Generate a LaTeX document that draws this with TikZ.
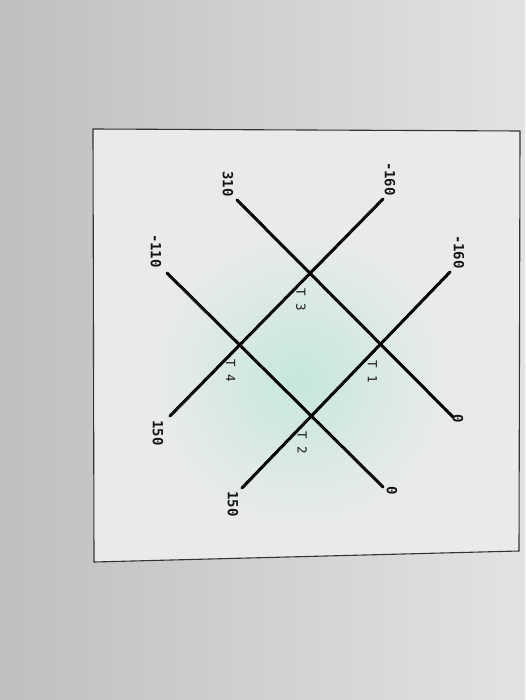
\documentclass[tikz,border=0pt]{standalone}
\usepackage{fontspec}
\setmonofont{DejaVu Sans Mono}
\definecolor{photobg}{HTML}{D9D9D7}
\definecolor{screenbg}{HTML}{EAEBE9}
\definecolor{glow}{HTML}{C6E7DE}
\begin{document}
\begin{tikzpicture}[x=1pt,y=-1pt,
  wire/.style={line width=3pt, line cap=round, black},
  lab/.style={font=\ttfamily\bfseries\fontsize{14}{15}\selectfont, rotate=-90, inner sep=0pt, text=black!92},
  tlab/.style={font=\ttfamily\fontsize{12.5}{14}\selectfont, rotate=-90, inner sep=0pt, text=black!90},
  frame/.style={draw=black!80, line width=1.1pt}]
\useasboundingbox (0,0) rectangle (525,700);
% photo background
\shade[left color=photobg!88!black, right color=photobg!75!white] (0,0) rectangle (525,700);
% screen area
\fill[screenbg] (93,129) -- (520,131) -- (519,551) -- (94,562) -- cycle;
\begin{scope}
  \clip (93,129) -- (520,131) -- (519,551) -- (94,562) -- cycle;
  \shade[inner color=glow, outer color=screenbg] (300,380) circle (150);
\end{scope}
\draw[frame] (93,129) -- (520,131) -- (519,551) -- (94,562) -- cycle;
% line endpoints
\coordinate (a1) at (383,199); \coordinate (a2) at (170,416);
\coordinate (b1) at (450,272); \coordinate (b2) at (242,488);
\coordinate (c1) at (237,200); \coordinate (c2) at (453,417);
\coordinate (d1) at (167,273); \coordinate (d2) at (383,487);
\draw[wire] (a1) -- (a2);
\draw[wire] (b1) -- (b2);
\draw[wire] (c1) -- (c2);
\draw[wire] (d1) -- (d2);
% crossings
\coordinate (x3) at (intersection of a1--a2 and c1--c2);
\coordinate (x4) at (intersection of a1--a2 and d1--d2);
\coordinate (x1) at (intersection of b1--b2 and c1--c2);
\coordinate (x2) at (intersection of b1--b2 and d1--d2);
% end labels
\node[lab] (la1) at (390,179) {-160};
\node[lab] (lb1) at (459,252) {-160};
\node[lab] (lc1) at (228,184) {310};
\node[lab] (ld1) at (156,251) {-110};
\node[lab] (lc2) at (458,419) {0};
\node[lab] (ld2) at (392,491) {0};
\node[lab] (la2) at (158,433) {150};
\node[lab] (lb2) at (233,504) {150};
% crossing labels
\node[tlab] (t3) at ([shift={(-9,26)}]x3) {T 3};
\node[tlab] (t1) at ([shift={(-8,28)}]x1) {T 1};
\node[tlab] (t4) at ([shift={(-9,26)}]x4) {T 4};
\node[tlab] (t2) at ([shift={(-9,27)}]x2) {T 2};
\end{tikzpicture}
\end{document}
